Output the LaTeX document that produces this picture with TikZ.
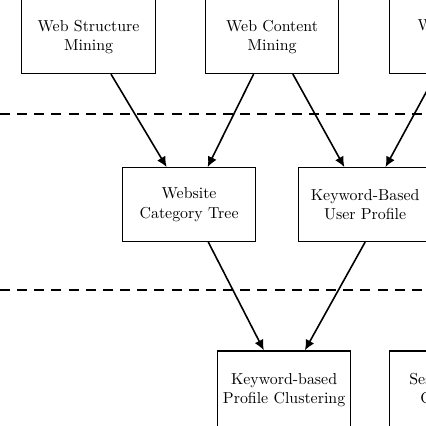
\documentclass[tikz,border=0pt]{standalone}
\usetikzlibrary{arrows.meta}

\tikzset{
	stage/.style={draw, thick, minimum width=2.95cm, minimum height=1.63cm, align=center, inner sep=2pt},
	flow/.style={line width=1pt, -{Latex[length=6.5pt, width=6pt]}},
	layer/.style={thick, dash pattern=on 6.2pt off 4.6pt}
}

\begin{document}
\begin{tikzpicture}
			%%%%% START %%%%%
			
			\clip (0, 0) rectangle (9.42, -9.42);
			
			% mining sources
			\node[stage] (wsm) at (1.958, -0.81) {Web Structure\\Mining};
			\node[stage] (wcm) at (6.017, -0.81) {Web Content\\Mining};
			\node[stage] (wum) at (10.09, -0.81) {Web Usage\\Mining};
			
			\draw[layer] (0, -2.522) -- (9.42, -2.522);
			
			% intermediate models
			\node[stage] (wct) at (4.181, -4.524) {Website\\Category Tree};
			\node[stage] (kbup) at (8.074, -4.524) {Keyword-Based\\User Profile};
			
			\draw[layer] (0, -6.415) -- (9.42, -6.415);
			
			% clustering
			\node[stage, minimum height=1.72cm] (kpc) at (6.282, -8.62) {Keyword-based\\Profile Clustering};
			\node[stage, minimum height=1.72cm] (sbc) at (10.09, -8.62) {Session-based\\Clustering};
			
			\draw[flow] (wsm) -- (wct);
			\draw[flow] (wcm) -- (wct);
			\draw[flow] (wcm) -- (kbup);
			\draw[flow] (wum) -- (kbup);
			
			\draw[flow] (wct) -- (kpc);
			\draw[flow] (kbup.south) -- ([xshift=0.46cm]kpc.north);
			
			%%%%% END %%%%%
\end{tikzpicture}
\end{document}
